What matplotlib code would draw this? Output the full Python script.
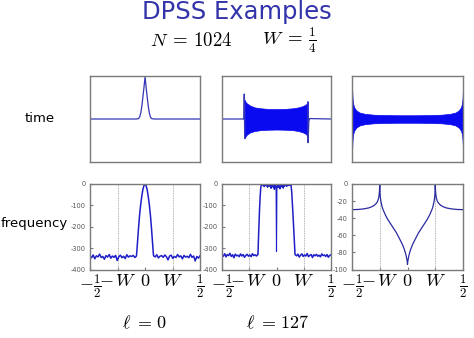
import numpy as np
import matplotlib
matplotlib.use("Agg")
import matplotlib.pyplot as plt

plt.rcParams['mathtext.fontset'] = 'cm'
plt.rcParams['axes.unicode_minus'] = False

N = 1024

# --- time domain, l = 0 : main pulse (sample, amplitude)
t0_x = [0, 430, 452, 462, 472, 482, 492, 502, 512, 522, 532, 542, 552, 562, 572, 594, 1023]
t0_y = [0, 0, 0.01, 0.05, 0.14, 0.30, 0.52, 0.75, 1.0, 0.75, 0.52, 0.30, 0.14, 0.05, 0.01, 0, 0]

# --- time domain, l = 127 : envelope of the oscillating block
t1_env_x = [212, 220, 235, 266, 307, 358, 430, 512, 594, 666, 717, 758, 789, 800, 806]
t1_env_up = [0.45, 0.40, 0.36, 0.31, 0.27, 0.25, 0.235, 0.23, 0.235, 0.25, 0.27, 0.30, 0.34, 0.38, 0.40]
t1_env_lo = [-0.45, -0.41, -0.36, -0.31, -0.28, -0.26, -0.25, -0.245, -0.25, -0.26, -0.28, -0.31, -0.35, -0.40, -0.45]
t1_left_x = [0, 205, 209, 213]
t1_left_y = [0, 0, 0.58, -0.45]
t1_right_x = [805, 808, 815, 822, 1023]
t1_right_y = [0.40, -0.55, -0.05, 0.01, 0]

# --- time domain, l = 511 : envelope
t2_env_x = [0, 3, 6, 10, 20, 40, 70, 120, 200, 300, 400, 512,
            624, 724, 824, 904, 954, 984, 1004, 1014, 1018, 1021, 1023]
t2_env_amp = [0.82, 0.60, 0.46, 0.36, 0.27, 0.20, 0.15, 0.12, 0.10, 0.092, 0.088, 0.087,
              0.088, 0.092, 0.10, 0.12, 0.15, 0.20, 0.27, 0.36, 0.46, 0.60, 0.82]

# --- frequency, l = 0 (dB)
f0_floor_left = [-338, -345, -332, -350, -336, -341, -328, -344, -339, -352, -335, -342,
                 -330, -347, -337, -343, -334, -358, -340, -333, -345, -338, -349, -331,
                 -342, -336, -339, -334, -344, -337]
f0_floor_right = [-336, -341, -331, -346, -338, -335, -343, -332, -340, -355, -337, -333,
                  -348, -339, -344, -330, -341, -336, -350, -334, -342, -338, -345, -329,
                  -343, -337, -360, -339, -347, -336]
f0_lobe_x = [-0.075, -0.072, -0.065, -0.058, -0.05, -0.04, -0.03, -0.02, -0.01, 0.0,
             0.01, 0.02, 0.03, 0.04, 0.05, 0.058, 0.065, 0.072, 0.075]
f0_lobe_y = [-320, -300, -250, -200, -150, -100, -60, -28, -8, 0,
             -8, -28, -60, -100, -150, -200, -250, -300, -320]

# --- frequency, l = 127 (dB)
f1_floor_left = [-332, -338, -326, -341, -330, -335, -324, -339, -331, -345, -328, -336,
                 -333, -340, -327, -337, -330, -343, -334, -329, -338, -332, -340, -326,
                 -335, -331, -337, -330]
f1_floor_right = [-331, -336, -328, -342, -333, -327, -339, -332, -337, -325, -340, -334,
                  -330, -344, -331, -336, -329, -338, -333, -341, -327, -335, -332, -339,
                  -330, -343, -334, -331]
f1_top = [-3, -1, -6, -2, -12, -4, -1, -8, -3, -15, -2, -6, -10, -3, -20, -5, -9, -14,
          -6, -25, -10, -7, -18, -12, -5, -16, -8, -22, -11, -4, -13, -7, -19, -3, -9,
          -6, -2, -11, -4, -1, -7, -2, -5, -1]
f1_edge_left_x = [-0.17, -0.165, -0.16, -0.155, -0.15, -0.145, -0.14]
f1_edge_left_y = [-330, -250, -180, -110, -60, -20, -3]
f1_edge_right_x = [0.133, 0.14, 0.15, 0.16, 0.17]
f1_edge_right_y = [-3, -40, -130, -230, -330]
f1_notch_x = [-0.004, 0.0, 0.004]
f1_notch_y = [-18, -316, -18]

# --- frequency, l = 511 (dB), left half; curve is symmetric about 0
f2_x = [-0.5, -0.45, -0.4, -0.35, -0.32, -0.3, -0.28, -0.27, -0.26, -0.255, -0.252, -0.25,
        -0.249, -0.247, -0.244, -0.24, -0.235, -0.228, -0.22, -0.21, -0.2, -0.18, -0.16,
        -0.14, -0.12, -0.1, -0.08, -0.06, -0.045, -0.03, -0.02, -0.012, -0.006, -0.002, 0.0]
f2_y = [-30, -29.8, -29.2, -28, -26.5, -25, -22.5, -20.5, -16.5, -12, -7, 0,
        -7, -12, -16, -20, -23, -27, -30, -33, -36, -41, -45,
        -49, -53, -57, -62, -67, -71, -76, -80, -84, -88, -91, -94]

freq_ticks = [-0.5, -0.25, 0, 0.25, 0.5]
freq_ticklabels = [r'$-\frac{1}{2}$', r'$-\,W$', r'$0$', r'$W$', r'$\frac{1}{2}$']

blue_line = '#3535b5'
blue_fill = '#0a0af0'
spine_col = '#7a7a7a'

fig = plt.figure(figsize=(4.74, 3.38), dpi=100)
W_px, H_px = 474, 338
lefts = [90, 222, 352]
widths = [110, 109, 111]


def make_ax(col, top, bottom):
    return fig.add_axes([lefts[col] / W_px, 1 - bottom / H_px,
                         widths[col] / W_px, (bottom - top) / H_px])


def style_box(ax):
    for s in ax.spines.values():
        s.set_color(spine_col)
        s.set_linewidth(1.0)


# top row: time
tax = [make_ax(i, 76, 162) for i in range(3)]
for ax in tax:
    style_box(ax)
    ax.set_xticks([])
    ax.set_yticks([])
    ax.set_xlim(0, N - 1)

tax[0].plot(t0_x, t0_y, color=blue_line, lw=0.9)
tax[0].set_ylim(-1.02, 1.02)

tax[1].plot(t1_left_x, t1_left_y, color=blue_line, lw=0.9)
tax[1].plot(t1_right_x, t1_right_y, color=blue_line, lw=0.9)
tax[1].fill_between(t1_env_x, t1_env_lo, t1_env_up, color=blue_fill, lw=0.5)
tax[1].set_ylim(-1, 1)

t2_lo = [-a for a in t2_env_amp]
tax[2].fill_between(t2_env_x, t2_lo, t2_env_amp, color=blue_fill, lw=0.5)
tax[2].set_ylim(-1, 1)

# bottom row: frequency
fax = [make_ax(i, 184, 269.5) for i in range(3)]
for ax in fax:
    style_box(ax)
    ax.set_xlim(-0.5, 0.5)
    ax.set_xticks(freq_ticks)
    ax.set_xticklabels(freq_ticklabels, fontsize=13)
    ax.tick_params(axis='x', direction='in', length=2, color=spine_col, pad=2)
    ax.tick_params(axis='y', direction='in', length=2, color=spine_col, pad=3,
                   labelsize=4.8, labelcolor='#555555')
    for w in (-0.25, 0.25):
        ax.axvline(w, color='#9a9a9a', lw=0.6, ls=(0, (1, 1)))

# l = 0
fl_x = list(np.linspace(-0.5, -0.078, len(f0_floor_left)))
fr_x = list(np.linspace(0.078, 0.5, len(f0_floor_right)))
fax[0].plot(fl_x + f0_lobe_x + fr_x, f0_floor_left + f0_lobe_y + f0_floor_right,
            color='#1e1ec8', lw=1.1)
fax[0].set_ylim(-400, 0)
fax[0].set_yticks([0, -100, -200, -300, -400])

# l = 127
fl_x = list(np.linspace(-0.5, -0.172, len(f1_floor_left)))
fr_x = list(np.linspace(0.172, 0.5, len(f1_floor_right)))
top_x = list(np.linspace(-0.138, 0.131, len(f1_top)))
fax[1].plot(fl_x + f1_edge_left_x + top_x + f1_edge_right_x + fr_x,
            f1_floor_left + f1_edge_left_y + f1_top + f1_edge_right_y + f1_floor_right,
            color='#1e1ec8', lw=1.1)
fax[1].plot(f1_notch_x, f1_notch_y, color='#1e1ec8', lw=0.8)
fax[1].set_ylim(-400, 0)
fax[1].set_yticks([0, -100, -200, -300, -400])

# l = 511
f2_full_x = f2_x + [-x for x in f2_x[::-1][1:]]
f2_full_y = f2_y + f2_y[::-1][1:]
fax[2].plot(f2_full_x, f2_full_y, color='#2a2aa0', lw=0.9)
fax[2].set_ylim(-100, 0)
fax[2].set_yticks([0, -20, -40, -60, -80, -100])

# titles and row/column labels
fig.text(0.5, 1 - 19 / H_px, 'DPSS Examples', ha='center', va='baseline',
         fontsize=17.5, color='#3333aa')
fig.text(191 / W_px, 1 - 40 / H_px, r'$N\;=\,1024$', ha='center', va='center', fontsize=13.5)
fig.text(289 / W_px, 1 - 40 / H_px, r'$W\;=\,\frac{1}{4}$', ha='center', va='center', fontsize=13.5)
fig.text(40 / W_px, 1 - 119 / H_px, 'time', ha='center', va='center', fontsize=9.5)
fig.text(34 / W_px, 1 - 224 / H_px, 'frequency', ha='center', va='center', fontsize=9.5)
fig.text(145 / W_px, 1 - 323 / H_px, r'$\ell\;=\,0$', ha='center', va='center', fontsize=13)
fig.text(278 / W_px, 1 - 323 / H_px, r'$\ell\;=\,127$', ha='center', va='center', fontsize=13)

fig.savefig('out.png', dpi=100)
